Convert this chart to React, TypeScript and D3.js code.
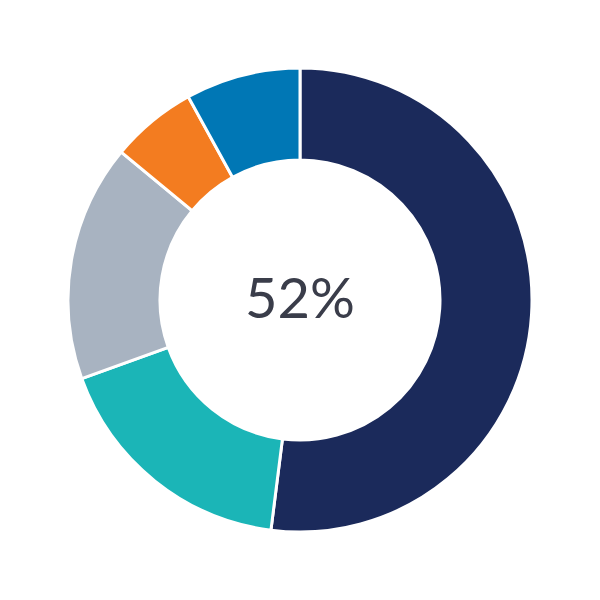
import * as d3 from 'd3';
import React, { useEffect, useRef } from 'react';

const labels = ['A', 'B', 'C', 'D', 'E'];
const values = [52, 17.5, 16.5, 6, 8];
const colors = ['#1b2a5b', '#1bb5b7', '#a8b3c1', '#f37c20', '#0077b5'];
const centerLabel = '52%';

const App = () => {
    const ref = useRef<SVGSVGElement | null>(null);
    const width = 600;
    const height = 600;
    const outerRadius = 232;
    const innerRadius = 140;

    useEffect(() => {
        const svg = d3.select(ref.current);
        svg.selectAll('*').remove();

        const g = svg.append('g')
            .attr('transform', `translate(${width / 2},${height / 2})`);

        const pie = d3.pie<number>().sort(null).value(d => d);
        const arc = d3.arc<d3.PieArcDatum<number>>()
            .innerRadius(innerRadius)
            .outerRadius(outerRadius);

        g.selectAll('path')
            .data(pie(values))
            .enter()
            .append('path')
            .attr('d', arc)
            .attr('fill', (d, i) => colors[i])
            .attr('stroke', '#fff')
            .attr('stroke-width', 3)
            .append('title')
            .text((d, i) => `${labels[i]}: ${values[i]}%`);

        // center label
        g.append('text')
            .attr('text-anchor', 'middle')
            .attr('dy', '0.33em')
            .attr('font-family', 'Lato, sans-serif')
            .attr('font-weight', 400)
            .attr('font-size', 56)
            .attr('fill', '#3a3d4a')
            .text(centerLabel);
    }, []);

    return (
        <svg
            ref={ref}
            width={width}
            height={height}
            style={{ position: 'absolute', left: 0, top: 0, background: '#fff' }}
        />
    );
};

export default App;
